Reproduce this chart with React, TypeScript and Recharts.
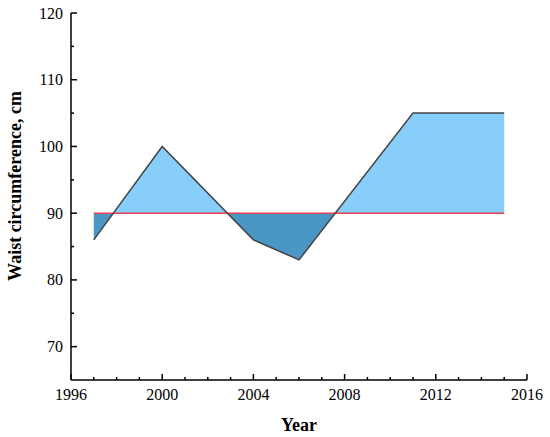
import { ComposedChart, Area, Line, XAxis, YAxis, ReferenceLine } from 'recharts'

const years = [1997, 2000, 2004, 2006, 2011, 2015]
const waist = [86, 100, 86, 83, 105, 105]
const threshold = 90
const xTicks = [1996, 1997, 1998, 1999, 2000, 2001, 2002, 2003, 2004, 2005, 2006, 2007, 2008, 2009, 2010, 2011, 2012, 2013, 2014, 2015, 2016]
const yTicks = [70, 75, 80, 85, 90, 95, 100, 105, 110, 115, 120]

const FONT = '"Liberation Serif", "Times New Roman", serif'

const data = years.map((year, i) => ({ year, waist: waist[i] }))

const maxV = Math.max(...waist)
const minV = Math.min(...waist)
const splitOffset = (maxV - threshold) / (maxV - minV)

function XTick(props: any) {
  const { x, y, payload } = props
  const major = payload.value % 4 === 0
  return (
    <g>
      <line x1={x} x2={x} y1={y} y2={y - (major ? 6 : 3)} stroke="#000" strokeWidth={1.5} />
      {major && (
        <text x={x} y={y + 20} textAnchor="middle" fontFamily={FONT} fontSize={16} fill="#000">
          {payload.value}
        </text>
      )}
    </g>
  )
}

function YTick(props: any) {
  const { x, y, payload } = props
  const major = payload.value % 10 === 0
  return (
    <g>
      <line x1={x} x2={x + (major ? 6 : 3)} y1={y} y2={y} stroke="#000" strokeWidth={1.5} />
      {major && (
        <text x={x - 8} y={y + 5.5} textAnchor="end" fontFamily={FONT} fontSize={16} fill="#000">
          {payload.value}
        </text>
      )}
    </g>
  )
}

function YLabel() {
  const cx = 21
  const cy = 186
  return (
    <text
      x={cx}
      y={cy}
      transform={`rotate(-90, ${cx}, ${cy})`}
      textAnchor="middle"
      fontFamily={FONT}
      fontSize={18}
      fontWeight="bold"
      fill="#000"
    >
      Waist circumference, cm
    </text>
  )
}

export default function App() {
  return (
    <div style={{ position: 'absolute', left: 0, top: 0, background: '#fff' }}>
      <ComposedChart width={550} height={437} data={data} margin={{ top: 13, right: 23, left: 0, bottom: 0 }}>
        <defs>
          <linearGradient id="splitFill" x1="0" y1="0" x2="0" y2="1">
            <stop offset={splitOffset} stopColor="#87CEFA" stopOpacity={1} />
            <stop offset={splitOffset} stopColor="#4A96C5" stopOpacity={1} />
          </linearGradient>
        </defs>
        <XAxis
          dataKey="year"
          type="number"
          domain={[1996, 2016]}
          ticks={xTicks}
          interval={0}
          height={57}
          tickSize={0}
          tickMargin={0}
          tickLine={false}
          axisLine={{ stroke: '#000', strokeWidth: 1.5 }}
          tick={<XTick />}
          label={{ value: 'Year', position: 'insideBottom', offset: 6, style: { fontFamily: FONT, fontSize: 18, fontWeight: 'bold', fill: '#000' } }}
        />
        <YAxis
          type="number"
          domain={[65, 120]}
          ticks={yTicks}
          interval={0}
          width={71}
          tickSize={0}
          tickMargin={0}
          tickLine={false}
          axisLine={{ stroke: '#000', strokeWidth: 1.5 }}
          tick={<YTick />}
          label={<YLabel />}
        />
        <Area
          type="linear"
          dataKey="waist"
          baseValue={threshold}
          stroke="none"
          fill="url(#splitFill)"
          fillOpacity={1}
          isAnimationActive={false}
        />
        <ReferenceLine
          segment={[{ x: years[0], y: threshold }, { x: years[years.length - 1], y: threshold }]}
          stroke="#E8404C"
          strokeWidth={1.5}
        />
        <Line
          type="linear"
          dataKey="waist"
          stroke="#444"
          strokeWidth={1.5}
          dot={false}
          activeDot={false}
          isAnimationActive={false}
        />
      </ComposedChart>
    </div>
  )
}
